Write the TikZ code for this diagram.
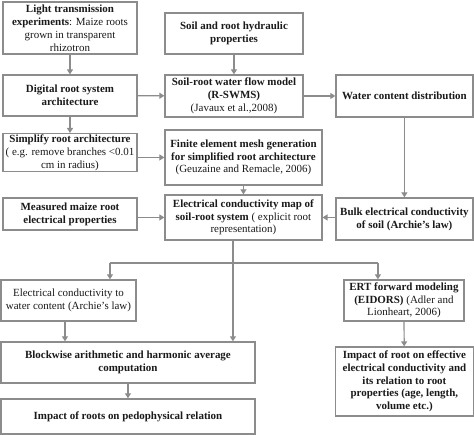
\documentclass[tikz,border=0pt]{standalone}
\usepackage{fontspec}
\setmainfont{Liberation Serif}
\usetikzlibrary{arrows.meta, positioning, calc}
\definecolor{edge}{HTML}{8C8C8C}
\definecolor{ink} {HTML}{1A1A1A}

\tikzset{
  box/.style={draw=edge, line width=1.2bp, fill=white, text=ink, align=center,
    inner sep=1bp, font=\fontsize{11}{12.9}\selectfont},
  link/.style={draw=edge, line width=1.2bp, -{Triangle[width=6bp,length=5bp]}},
  trunk/.style={draw=edge, line width=1.2bp}
}

\begin{document}
\begin{tikzpicture}[x=1bp, y=-1bp]
    % left column
    \node[box, minimum width=134bp, minimum height=52bp] (light) at (70,28)
      {\textbf{Light transmission}\\ \textbf{experiments}: Maize roots\\ grown in transparent\\ rhizotron};
    \node[box, minimum width=134bp, minimum height=41bp] (digital) at (70,95.5)
      {\textbf{Digital root system}\\ \textbf{architecture}};
    \node[box, minimum width=134bp, minimum height=31bp] (simplify) at (70,152.5)
      {\textbf{Simplify root architecture}\\ ( e.g. remove branches <0.01\\ cm in radius)};
    \node[box, minimum width=134bp, minimum height=32bp] (measured) at (70,214)
      {\textbf{Measured maize root}\\ \textbf{electrical properties}};

    % middle column
    \node[box, minimum width=138bp, minimum height=41bp] (hydraulic) at (234,33.5)
      {\textbf{Soil and root hydraulic}\\ \textbf{properties}};
    \node[box, minimum width=138bp, minimum height=42bp] (rswms) at (234,96)
      {\textbf{Soil-root water flow model}\\ \textbf{(R-SWMS)}\\ (Javaux et al.,2008)};
    \node[box, minimum width=157bp, minimum height=55bp] (mesh) at (243.5,157.5)
      {\textbf{Finite element mesh generation}\\ \textbf{for simplified root architecture}\\ (Geuzaine and Remacle, 2006)};
    \node[box, minimum width=157bp, minimum height=45bp] (ecmap) at (243.5,217.5)
      {\textbf{Electrical conductivity map of}\\ \textbf{soil-root system} ( explicit root\\ representation)};

    % right column
    \node[box, minimum width=137bp, minimum height=42bp] (water) at (404.5,96)
      {\textbf{Water content distribution}};
    \node[box, minimum width=137bp, minimum height=42bp] (bulk) at (404.5,219)
      {\textbf{Bulk electrical conductivity}\\ \textbf{of soil (Archie's law)}};

    % lower part
    \node[box, minimum width=135bp, minimum height=41bp] (ecwater) at (68.5,300.5)
      {Electrical conductivity to\\ water content (Archie's law)};
    \node[box, minimum width=254bp, minimum height=41bp] (block) at (128,362.5)
      {\textbf{Blockwise arithmetic and harmonic average}\\ \textbf{computation}};
    \node[box, minimum width=254bp, minimum height=35bp] (pedo) at (128,416.5)
      {\textbf{Impact of roots on pedophysical relation}};
    \node[box, minimum width=120bp, minimum height=41bp] (ert) at (404,300.5)
      {\textbf{ERT forward modeling}\\ \textbf{(EIDORS)} (Adler and\\ Lionheart, 2006)};
    \node[box, minimum width=138bp, minimum height=69bp] (impact) at (404.5,381.5)
      {\textbf{Impact of root on effective}\\ \textbf{electrical conductivity and}\\ \textbf{its relation to root}\\ \textbf{properties (age, length,}\\ \textbf{volume etc.)}};

    % connectors
    \draw[link] (light) -- (digital);
    \draw[link] (digital) -- (simplify);
    \draw[link] (hydraulic) -- (rswms);
    \draw[link] (digital) -- (rswms);
    \draw[link] (rswms) -- (water);
    \draw[link] (simplify.east |- mesh.west) -- (mesh.west);
    \draw[link] (water) -- (bulk);
    \draw[link] (mesh) -- (ecmap);
    \draw[link] (measured.east |- ecmap.west) -- (ecmap.west);
    \draw[link] (bulk.west |- ecmap.east) -- (ecmap.east);

    % fork below the conductivity map
    \coordinate (fork) at (233,263);
    \coordinate (leftdrop) at (110,263);
    \coordinate (rightdrop) at (378,263);
    \draw[link] (ecmap.south -| fork) -- (fork |- block.north);
    \draw[trunk] (leftdrop) -- (rightdrop);
    \draw[link] (leftdrop) -- (leftdrop |- ecwater.north);
    \draw[link] (rightdrop) -- (rightdrop |- ert.north);

    \draw[link] (ecwater.south -| 65,0) -- (block.north -| 65,0);
    \draw[link] (block) -- (pedo);
    \draw[link] (ert) -- (impact);

    \useasboundingbox (0,0) rectangle (474,435);
\end{tikzpicture}
\end{document}
